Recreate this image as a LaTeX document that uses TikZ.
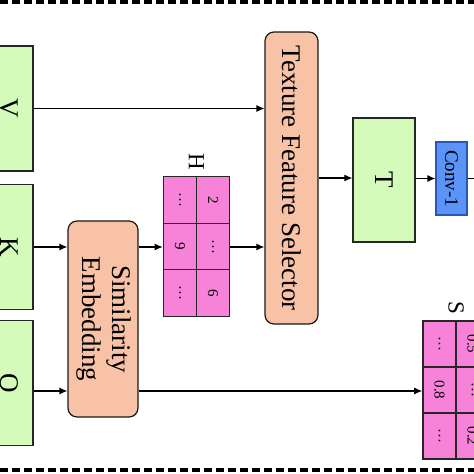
\documentclass[tikz,border=0pt]{standalone}
\usepackage{graphicx}
\usepackage{fontspec}
\setmainfont{Liberation Serif}
\usetikzlibrary{arrows.meta,matrix}

\definecolor{boxgreen}{HTML}{D4FBB9}
\definecolor{boxpeach}{HTML}{F8C2A6}
\definecolor{cellpink}{HTML}{F783D9}
\definecolor{convblue}{HTML}{5C93F7}
\definecolor{convedge}{HTML}{2C55B8}

\newcommand{\vtext}[1]{\rotatebox{-90}{#1}}
% input letters sit at the cut-off left edge
\newcommand{\edgetext}[1]{\rotatebox{-90}{\raisebox{-2pt}[0pt][0pt]{#1}}}

\tikzset{
  block/.style={draw=black!85, line width=1.2pt, fill=boxgreen, inner sep=0pt,
                minimum width=62pt, minimum height=125pt},
  process/.style={draw=black!90, line width=1.2pt, fill=boxpeach, rounded corners=9pt,
                  inner sep=0pt},
  conv/.style={draw=convedge, line width=1.2pt, fill=convblue, inner sep=0pt,
               font=\fontsize{19}{22}\selectfont},
  cell/.style={draw=black!85, line width=1.2pt, fill=cellpink, inner sep=0pt, anchor=center,
               minimum width=33pt, minimum height=46.5pt, font=\fontsize{15}{18}\selectfont},
  grid/.style={matrix of nodes, nodes={cell}, column sep=-1.2pt, row sep=-1.2pt, inner sep=0pt},
  lab/.style={font=\fontsize{23}{26}\selectfont, inner sep=0pt},
  arr/.style={-{Latex[length=8pt,width=7pt]}, line width=1.2pt},
  dashline/.style={line width=4pt, dash pattern=on 8pt off 4pt}
}

\begin{document}
\begin{tikzpicture}[x=1pt,y=-1pt, every node/.append style={font=\fontsize{27}{30}\selectfont}]
  \useasboundingbox (0,0) rectangle (474,474);
  \clip (0,0) rectangle (474,474);

  % inputs
  \node[block] (V) at (2,108.5) {\edgetext{V}};
  \node[block] (K) at (2,247) {\edgetext{K}};
  \node[block] (Q) at (2,383) {\edgetext{Q}};

  \node[process, minimum width=70pt, minimum height=196pt] (sim) at (103,319)
       {\vtext{\begin{tabular}{@{}c@{}}Similarity\\Embedding\end{tabular}}};
  \node[process, minimum width=53pt, minimum height=292pt] (tfs) at (291.5,178)
       {\vtext{Texture Feature Selector}};
  \node[block, minimum height=124pt] (T) at (384,180) {\vtext{T}};
  \node[conv, minimum width=31pt, minimum height=73pt] (conv) at (451.5,178.5) {\vtext{Conv-1}};

  % hard and soft attention maps
  \matrix (H) [grid] at (196.5,246.5) {
    \vtext{\dots} & \vtext{2} \\
    \vtext{9} & \vtext{\dots} \\
    \vtext{\dots} & \vtext{6} \\
  };
  \matrix (S) [grid, nodes={minimum height=46pt}] at (456,390) {
    \vtext{\dots} & \vtext{0.5} \\
    \vtext{0.8} & \vtext{\dots} \\
    \vtext{\dots} & \vtext{0.2} \\
  };
  \node[lab] (Hlab) at ([yshift=14pt]H.north) {\vtext{H}};
  \node[lab] (Slab) at ([yshift=12pt]S.north) {\vtext{S}};

  \coordinate (qline) at (0,391);
  \coordinate (out) at (474,178.5);

  \draw[arr] (V) -- (V -| tfs.west);
  \draw[arr] (K) -- (K -| sim.west);
  \draw[arr] (Q.east |- qline) -- (sim.west |- qline);
  \draw[arr] (sim.east |- K) -- (H.west |- K);
  \draw[arr] (H.east |- K) -- (tfs.west |- K);
  \draw[arr] (sim.east |- qline) -- (S.west |- qline);
  \draw[arr] (tfs.east) -- (tfs.east -| T.west);
  \draw[arr] (T.east |- conv) -- (conv.west);
  \draw[line width=1.2pt] (conv.east) -- (out);

  \draw[dashline] (0,2) -- (474,2);
  \draw[dashline] (0,470) -- (474,470);
\end{tikzpicture}
\end{document}
